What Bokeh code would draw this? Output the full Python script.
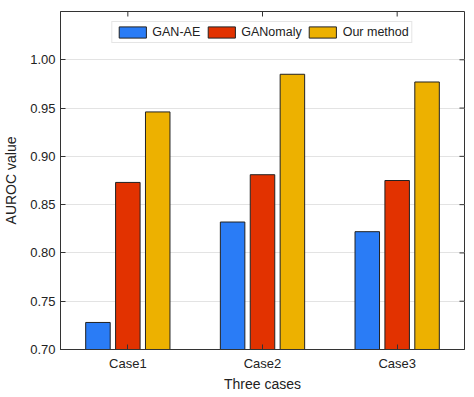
import math
from bokeh.plotting import figure
from bokeh.models import (ColumnDataSource, FactorRange, Range1d, FixedTicker, NumeralTickFormatter,
                          Legend, LegendItem)
from bokeh.transform import dodge
from bokeh.embed import file_html
from bokeh.resources import INLINE

cases = ["Case1", "Case2", "Case3"]
gan_ae = [0.728, 0.832, 0.822]
ganomaly = [0.873, 0.881, 0.875]
our_method = [0.946, 0.985, 0.977]
series_names = ["GAN-AE", "GANomaly", "Our method"]
y_ticks = [0.70, 0.75, 0.80, 0.85, 0.90, 0.95, 1.00]
y_min, y_max = 0.70, 1.05

colors = ["#2a7cf6", "#e23200", "#edb100"]
FONT = "Liberation Sans"
AX = "#333333"

src = ColumnDataSource(dict(cases=cases, a=gan_ae, b=ganomaly, c=our_method))

p = figure(x_range=FactorRange(*cases, range_padding=0), y_range=Range1d(y_min, y_max),
           frame_width=404, frame_height=338,
           output_backend="svg", toolbar_location=None,
           min_border_left=57, min_border_top=11, min_border_right=4, min_border_bottom=0)

renderers = []
for field, off, col in zip(["a", "b", "c"], [-0.222, 0.0, 0.222], colors):
    r = p.vbar(x=dodge("cases", off, range=p.x_range), top=field, bottom=y_min, width=0.182,
               source=src, fill_color=col, line_color="#222222", line_width=1)
    renderers.append(r)

# inward ticks on top and right edges (box style)
p.ray(x=cases, y=[y_max] * len(cases), length=5, length_units="screen",
      angle=-math.pi / 2, line_color=AX, line_width=1)
p.ray(x=dodge("x", 0.5, range=p.x_range), y="y", length=5, length_units="screen",
      angle=math.pi, line_color=AX, line_width=1,
      source=ColumnDataSource(dict(x=[cases[-1]] * len(y_ticks), y=y_ticks)))

p.xgrid.visible = False
p.ygrid.grid_line_color = "#e3e3e3"
p.ygrid.ticker = FixedTicker(ticks=y_ticks)

p.outline_line_color = AX
p.outline_line_width = 1

for ax in [p.xaxis[0], p.yaxis[0]]:
    ax.major_tick_in = 5
    ax.major_tick_out = 0
    ax.minor_tick_in = 0
    ax.minor_tick_out = 0
    ax.axis_line_color = AX
    ax.major_tick_line_color = AX
    ax.major_label_text_font = FONT
    ax.major_label_text_font_size = "13px"
    ax.major_label_text_color = "#222222"
    ax.axis_label_text_font = FONT
    ax.axis_label_text_font_size = "14px"
    ax.axis_label_text_font_style = "normal"
    ax.axis_label_text_color = "#222222"

p.yaxis[0].ticker = FixedTicker(ticks=y_ticks)
p.yaxis[0].formatter = NumeralTickFormatter(format="0.00")
p.yaxis[0].axis_label = "AUROC value"
p.yaxis[0].axis_label_standoff = 8
p.xaxis[0].axis_label = "Three cases"
p.xaxis[0].major_label_standoff = 6
p.xaxis[0].axis_label_standoff = 2

legend = Legend(items=[LegendItem(label=n, renderers=[renderers[i]]) for i, n in enumerate(series_names)],
                orientation="horizontal", location="top_center",
                label_text_font=FONT, label_text_font_size="12.5px", label_text_color="#222222",
                glyph_width=34, glyph_height=14, label_standoff=3, spacing=4, padding=3,
                margin=10, border_line_color="#cccccc", background_fill_color="white",
                label_height=14)
p.add_layout(legend, "center")

open("out.html", "w").write(file_html(p, INLINE))
